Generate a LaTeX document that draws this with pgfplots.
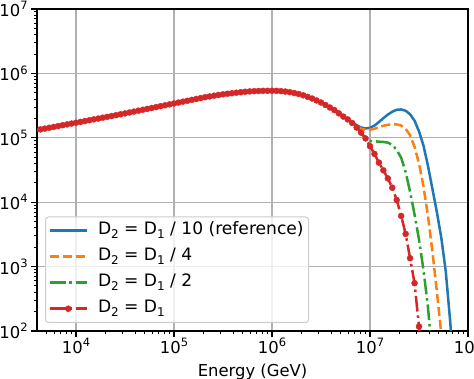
\documentclass[border=0pt]{standalone}
\usepackage{fontspec}
\setmainfont{DejaVu Sans}
\usepackage{pgfplots}
\pgfplotsset{compat=1.18}
\definecolor{mplblue}{HTML}{1F77B4}
\definecolor{mplorange}{HTML}{FF7F0E}
\definecolor{mplgreen}{HTML}{2CA02C}
\definecolor{mplred}{HTML}{D62728}
\definecolor{gridgray}{HTML}{B0B0B0}
\newcommand{\sU}[1]{\raisebox{0.42em}{\fontsize{11.5}{12}\selectfont #1}}
\newcommand{\sD}[1]{\raisebox{-0.22em}{\fontsize{12}{12}\selectfont #1}}

\pgfplotstableread{
x y
3511 1.271e5
3899 1.309e5
4329 1.349e5
4806 1.390e5
5337 1.432e5
5926 1.476e5
6579 1.521e5
7305 1.567e5
8111 1.614e5
9006 1.663e5
10000 1.714e5
11103 1.766e5
12328 1.820e5
13689 1.875e5
15199 1.932e5
16876 1.991e5
18738 2.051e5
20806 2.113e5
23101 2.178e5
25650 2.244e5
28480 2.317e5
31623 2.393e5
35112 2.472e5
38986 2.553e5
43288 2.636e5
48064 2.723e5
53367 2.812e5
59255 2.904e5
65793 2.999e5
73053 3.097e5
81113 3.199e5
90063 3.304e5
100000 3.412e5
111030 3.524e5
123280 3.639e5
136890 3.758e5
151990 3.882e5
168760 4.009e5
187380 4.140e5
208060 4.266e5
231010 4.385e5
256500 4.508e5
284800 4.624e5
316230 4.732e5
351120 4.831e5
389860 4.920e5
432880 5.012e5
480640 5.105e5
533670 5.188e5
592550 5.248e5
657930 5.297e5
730530 5.333e5
811130 5.358e5
900630 5.370e5
1000000 5.370e5
1110300 5.358e5
1232800 5.309e5
1368900 5.224e5
1519900 5.105e5
1687600 4.955e5
1873800 4.786e5
2080600 4.571e5
2310100 4.315e5
2565000 4.074e5
2848000 3.802e5
3162300 3.532e5
3511200 3.236e5
3898600 2.951e5
4328800 2.692e5
4806400 2.399e5
5336700 2.138e5
5925500 1.972e5
6579300 1.758e5
7305300 1.567e5
8111300 1.445e5
9006300 1.396e5
10000000 1.429e5
11103000 1.549e5
12328000 1.758e5
13689000 2.018e5
15199000 2.291e5
16876000 2.541e5
18738000 2.723e5
20806000 2.754e5
23101000 2.630e5
25650000 2.317e5
28480000 1.841e5
31623000 1.259e5
35112000 7.586e4
38986000 3.715e4
43288000 1.622e4
48064000 7.079e3
53367000 2.818e3
59255000 851.1
65793000 141.3
73053000 15.85
}\bluedata

\pgfplotstableread{
x y
3511 1.271e5
3899 1.309e5
4329 1.349e5
4806 1.390e5
5337 1.432e5
5926 1.476e5
6579 1.521e5
7305 1.567e5
8111 1.614e5
9006 1.663e5
10000 1.714e5
11103 1.766e5
12328 1.820e5
13689 1.875e5
15199 1.932e5
16876 1.991e5
18738 2.051e5
20806 2.113e5
23101 2.178e5
25650 2.244e5
28480 2.317e5
31623 2.393e5
35112 2.472e5
38986 2.553e5
43288 2.636e5
48064 2.723e5
53367 2.812e5
59255 2.904e5
65793 2.999e5
73053 3.097e5
81113 3.199e5
90063 3.304e5
100000 3.412e5
111030 3.524e5
123280 3.639e5
136890 3.758e5
151990 3.882e5
168760 4.009e5
187380 4.140e5
208060 4.266e5
231010 4.385e5
256500 4.508e5
284800 4.624e5
316230 4.732e5
351120 4.831e5
389860 4.920e5
432880 5.012e5
480640 5.105e5
533670 5.188e5
592550 5.248e5
657930 5.297e5
730530 5.333e5
811130 5.358e5
900630 5.370e5
1000000 5.370e5
1110300 5.358e5
1232800 5.309e5
1368900 5.224e5
1519900 5.105e5
1687600 4.955e5
1873800 4.786e5
2080600 4.571e5
2310100 4.315e5
2565000 4.074e5
2848000 3.802e5
3162300 3.532e5
3511200 3.236e5
3898600 2.951e5
4328800 2.692e5
4806400 2.399e5
5336700 2.138e5
5925500 1.950e5
6579300 1.718e5
7305300 1.514e5
8111300 1.380e5
9006300 1.334e5
10000000 1.340e5
11103000 1.380e5
12328000 1.462e5
13689000 1.538e5
15199000 1.592e5
16876000 1.622e5
18738000 1.614e5
20806000 1.549e5
23101000 1.380e5
25650000 1.096e5
28480000 7.244e4
31623000 3.981e4
35112000 1.778e4
38986000 6.166e3
43288000 1.738e3
48064000 416.9
53367000 89.1
59255000 15.85
}\orangedata

\pgfplotstableread{
x y
3511 1.271e5
3899 1.309e5
4329 1.349e5
4806 1.390e5
5337 1.432e5
5926 1.476e5
6579 1.521e5
7305 1.567e5
8111 1.614e5
9006 1.663e5
10000 1.714e5
11103 1.766e5
12328 1.820e5
13689 1.875e5
15199 1.932e5
16876 1.991e5
18738 2.051e5
20806 2.113e5
23101 2.178e5
25650 2.244e5
28480 2.317e5
31623 2.393e5
35112 2.472e5
38986 2.553e5
43288 2.636e5
48064 2.723e5
53367 2.812e5
59255 2.904e5
65793 2.999e5
73053 3.097e5
81113 3.199e5
90063 3.304e5
100000 3.412e5
111030 3.524e5
123280 3.639e5
136890 3.758e5
151990 3.882e5
168760 4.009e5
187380 4.140e5
208060 4.266e5
231010 4.385e5
256500 4.508e5
284800 4.624e5
316230 4.732e5
351120 4.831e5
389860 4.920e5
432880 5.012e5
480640 5.105e5
533670 5.188e5
592550 5.248e5
657930 5.297e5
730530 5.333e5
811130 5.358e5
900630 5.370e5
1000000 5.370e5
1110300 5.358e5
1232800 5.309e5
1368900 5.224e5
1519900 5.105e5
1687600 4.955e5
1873800 4.786e5
2080600 4.571e5
2310100 4.315e5
2565000 4.074e5
2848000 3.802e5
3162300 3.532e5
3511200 3.236e5
3898600 2.951e5
4328800 2.692e5
4806400 2.399e5
5336700 2.138e5
5925500 1.928e5
6579300 1.698e5
7305300 1.445e5
8111300 1.202e5
9006300 9.772e4
10000000 8.913e4
11103000 8.810e4
12328000 8.710e4
13689000 8.610e4
15199000 8.414e4
16876000 7.762e4
18738000 6.457e4
20806000 4.898e4
23101000 2.951e4
25650000 1.445e4
28480000 6.457e3
31623000 2.630e3
35112000 891.3
38986000 239.9
43288000 39.8
}\greendata

\pgfplotstableread{
x y
3511 1.271e5
3899 1.309e5
4329 1.349e5
4806 1.390e5
5337 1.432e5
5926 1.476e5
6579 1.521e5
7305 1.567e5
8111 1.614e5
9006 1.663e5
10000 1.714e5
11103 1.766e5
12328 1.820e5
13689 1.875e5
15199 1.932e5
16876 1.991e5
18738 2.051e5
20806 2.113e5
23101 2.178e5
25650 2.244e5
28480 2.317e5
31623 2.393e5
35112 2.472e5
38986 2.553e5
43288 2.636e5
48064 2.723e5
53367 2.812e5
59255 2.904e5
65793 2.999e5
73053 3.097e5
81113 3.199e5
90063 3.304e5
100000 3.412e5
111030 3.524e5
123280 3.639e5
136890 3.758e5
151990 3.882e5
168760 4.009e5
187380 4.140e5
208060 4.266e5
231010 4.385e5
256500 4.508e5
284800 4.624e5
316230 4.732e5
351120 4.831e5
389860 4.920e5
432880 5.012e5
480640 5.105e5
533670 5.188e5
592550 5.248e5
657930 5.297e5
730530 5.333e5
811130 5.358e5
900630 5.370e5
1000000 5.370e5
1110300 5.358e5
1232800 5.309e5
1368900 5.224e5
1519900 5.105e5
1687600 4.955e5
1873800 4.786e5
2080600 4.571e5
2310100 4.315e5
2565000 4.074e5
2848000 3.802e5
3162300 3.532e5
3511200 3.236e5
3898600 2.951e5
4328800 2.692e5
4806400 2.399e5
5336700 2.138e5
5925500 1.928e5
6579300 1.698e5
7305300 1.445e5
8111300 1.202e5
9006300 9.772e4
10000000 7.413e4
11103000 5.623e4
12328000 4.121e4
13689000 3.126e4
15199000 2.344e4
16876000 1.679e4
18738000 1.081e4
20806000 6.109e3
23101000 3.214e3
25650000 1.349e3
28480000 553.4
31623000 117.5
35112000 19.95
}\reddata

\begin{document}
\fontsize{16.4}{19.7}\selectfont
\begin{tikzpicture}
\begin{axis}[
  name=ax,
  scale only axis,
  width=431pt, height=322pt,
  xmode=log, ymode=log,
  xmin=4000, xmax=1e8, ymin=100, ymax=1e7,
  xtick={1e4,1e5,1e6,1e7,1e8},
  xticklabels={10\sU{4},10\sU{5},10\sU{6},10\sU{7},10\sU{8}},
  ytick={1e2,1e3,1e4,1e5,1e6,1e7},
  yticklabels={10\sU{2},10\sU{3},10\sU{4},10\sU{5},10\sU{6},10\sU{7}},
  minor xtick={5000,6000,7000,8000,9000,
    2e4,3e4,4e4,5e4,6e4,7e4,8e4,9e4,
    2e5,3e5,4e5,5e5,6e5,7e5,8e5,9e5,
    2e6,3e6,4e6,5e6,6e6,7e6,8e6,9e6,
    2e7,3e7,4e7,5e7,6e7,7e7,8e7,9e7},
  minor ytick={200,300,400,500,600,700,800,900,
    2e3,3e3,4e3,5e3,6e3,7e3,8e3,9e3,
    2e4,3e4,4e4,5e4,6e4,7e4,8e4,9e4,
    2e5,3e5,4e5,5e5,6e5,7e5,8e5,9e5,
    2e6,3e6,4e6,5e6,6e6,7e6,8e6,9e6},
  grid=major,
  major grid style={color=gridgray, line width=1.2pt, solid},
  minor grid style={draw=none},
  tick align=outside,
  tick pos=left,
  major tick length=5.7pt,
  minor tick length=3.3pt,
  major tick style={black, line width=1.3pt},
  minor tick style={black, line width=1pt},
  axis line style={line width=1.3pt},
  tick label style={font=\fontsize{16.4}{19.7}\selectfont},
  yticklabel style={inner xsep=3.5pt},
  xticklabel style={inner ysep=1pt},
  xlabel={Energy (GeV)},
  xlabel style={font=\fontsize{16.4}{19.7}\selectfont, inner ysep=1pt, yshift=-8.5pt},
  legend cell align=left,
  legend image code/.code={\draw[mark repeat=2,mark phase=2,#1] plot coordinates {(0pt,0pt) (18.5pt,0pt) (37pt,0pt)};},
  legend style={
    at={(0,0)}, anchor=south west, xshift=8pt, yshift=8pt,
    draw=black!20, line width=1pt, rounded corners=3pt,
    fill=white, fill opacity=0.8, draw opacity=1, text opacity=1,
    font=\fontsize{17.1}{20}\selectfont,
    inner xsep=3pt, inner ysep=3.5pt, row sep=5.5pt, column sep=8pt,
    nodes={inner sep=2pt, text height=12.5pt, text depth=4pt},
  },
]
\addplot[color=mplblue, line width=2.5pt, no marks] table {\bluedata};
\addlegendentry{D\sD{2} = D\sD{1} / 10 (reference)}
\addplot[color=mplorange, line width=2.5pt, no marks, dash pattern=on 9.1pt off 3.9pt] table {\orangedata};
\addlegendentry{D\sD{2} = D\sD{1} / 4}
\addplot[color=mplgreen, line width=2.5pt, no marks, dash pattern=on 15.7pt off 3.9pt on 2.5pt off 3.9pt] table {\greendata};
\addlegendentry{D\sD{2} = D\sD{1} / 2}
\addplot[color=mplred, line width=2.5pt, dash pattern=on 15.7pt off 3.9pt on 2.5pt off 3.9pt, mark=*, mark size=3pt, mark options={solid, line width=0.4pt, fill opacity=1}] table {\reddata};
\addlegendentry{D\sD{2} = D\sD{1}}
\end{axis}
\pgfresetboundingbox
\path[use as bounding box] ([shift={(-37pt,-48pt)}]ax.south west) rectangle ([shift={(6pt,9pt)}]ax.north east);
\end{tikzpicture}
\end{document}
